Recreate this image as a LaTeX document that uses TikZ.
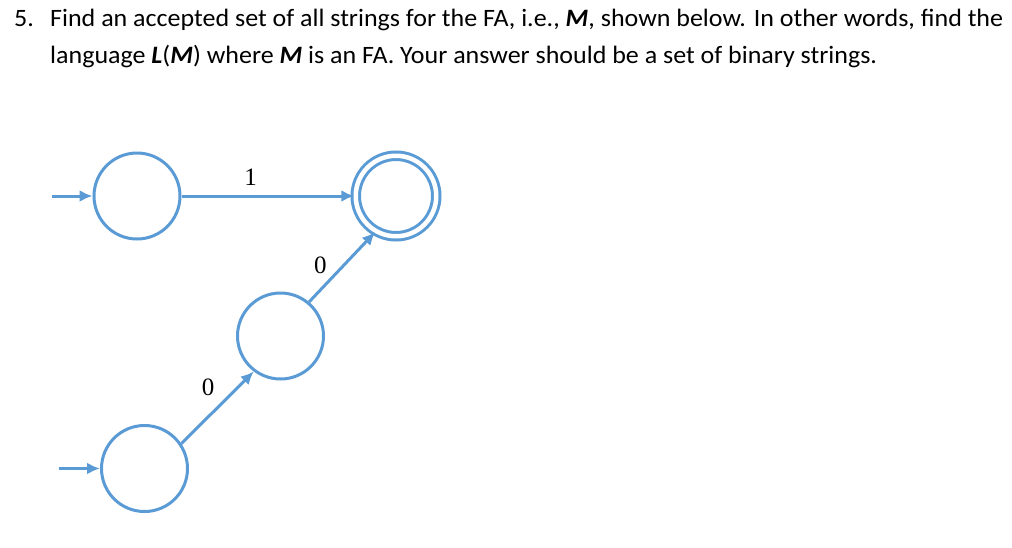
\documentclass[tikz,border=0pt]{standalone}
\usepackage{fontspec}
\setmainfont[FakeStretch=1.04]{Carlito}
\newfontfamily\zifffont{Liberation Serif}
\usepackage{tikz}
\usetikzlibrary{arrows.meta}

\definecolor{fablau}{HTML}{5B9BD5}

\begin{document}
\begin{tikzpicture}[%show background rectangle,
        x=1pt, y=-1pt,
        zustand/.style={circle, draw=fablau, line width=3pt, minimum size=86pt, inner sep=0pt},
        endzustand/.style={zustand, minimum size=80.5pt, double=white, double distance=4.5pt},
        uebergang/.style={draw=fablau, line width=3pt},
        zeichen/.style={font=\zifffont\fontsize{25}{25}\selectfont, inner sep=0pt, anchor=south},
        aufgabe/.style={font=\fontsize{25}{30}\selectfont, inner sep=0pt, anchor=base west},
        >={Latex[length=13pt,width=12pt]} % Voreinstellung für Pfeilspitzen
        ]
            \useasboundingbox (0,0) rectangle (1012,547);

            % Aufgabentext
            \node[aufgabe] (nr) at (14,26) {5.};
            \node[aufgabe] (z1) at (50,26) {Find an accepted set of all strings for the FA, i.e., \textbf{\textit{M}}, shown below. In other words, find the};
            \node[aufgabe] (z2) at (50,63) {language \textbf{\textit{L}}(\textbf{\textit{M}}) where \textbf{\textit{M}} is an FA. Your answer should be a set of binary strings.};

            % Zustaende
            \node[zustand]    (q0) at (137,196) {};
            \node[endzustand] (q3) at (396,196) {};
            \node[zustand]    (q2) at (280.5,336) {};
            \node[zustand]    (q1) at (144.5,468.5) {};

            % Startpfeile
            \coordinate (s0) at (52,196);
            \coordinate (s1) at (59,468.5);
            \draw[uebergang,->] (s0) -- (q0);
            \draw[uebergang,->] (s1) -- (q1);

            % Uebergaenge
            \draw[uebergang,->] (q0) -- node[zeichen, pos=.40, above=9pt] {1} (q3);
            \draw[uebergang,->] (q1.34) -- node[zeichen, pos=.37, above=20pt] {0} (q2.233);
            \draw[uebergang,->] (q2.50) -- node[zeichen, pos=.17, above=15pt] {0} (q3.240);

        \end{tikzpicture}
\end{document}
